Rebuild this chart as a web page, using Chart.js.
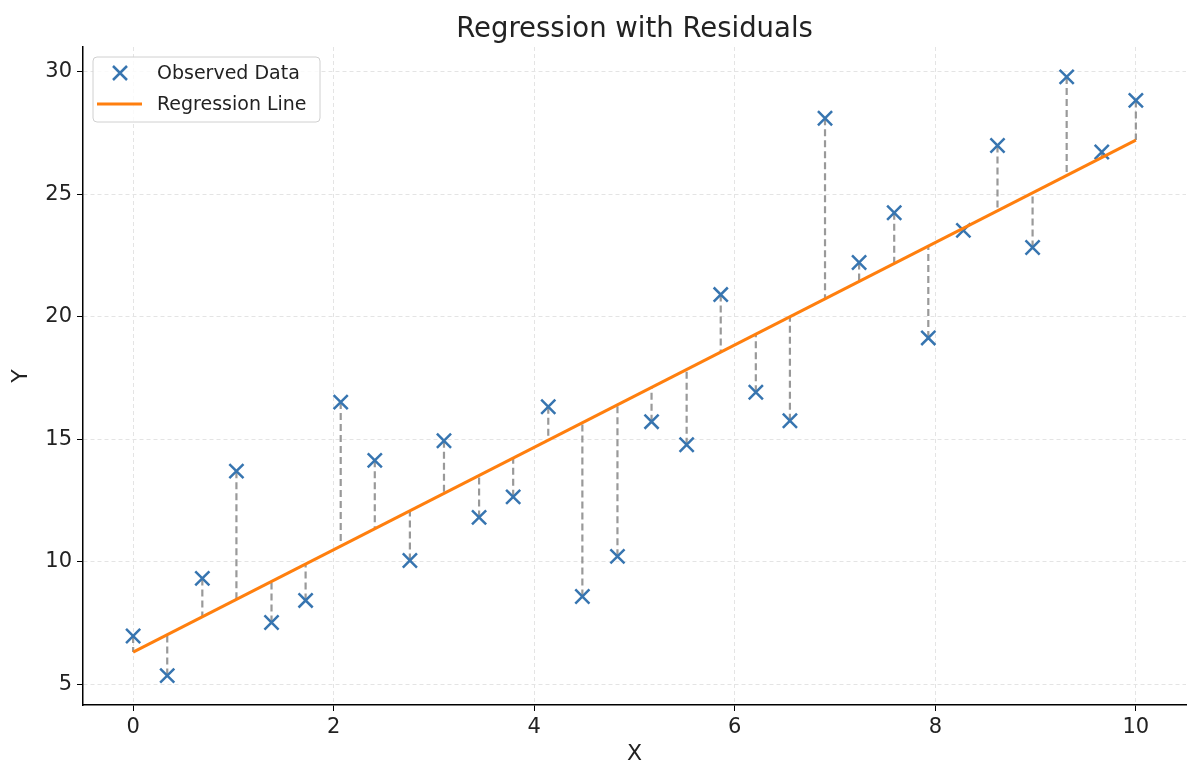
<!DOCTYPE html>
<html>
<head>
<meta charset="utf-8">
<title>Regression with Residuals</title>
<script src="https://cdn.jsdelivr.net/npm/chart.js@4.4.1/dist/chart.umd.min.js"></script>
<style>
  html, body { margin: 0; padding: 0; background: #fff; }
  #wrap { width: 1200px; height: 781px; position: relative; }
</style>
</head>
<body>
<div id="wrap"><canvas id="mycanvas" width="1200" height="781"></canvas></div>
<script>
// data
var xVals = [0, 0.34, 0.69, 1.03, 1.38, 1.72, 2.07, 2.41, 2.76, 3.10,
	3.45, 3.79, 4.14, 4.48, 4.83, 5.17, 5.52, 5.86, 6.21, 6.55,
	6.90, 7.24, 7.59, 7.93, 8.28, 8.62, 8.97, 9.31, 9.66, 10];
var yObserved = [6.97, 5.35, 9.32, 13.70, 7.52, 8.42, 16.52, 14.14, 10.05, 14.94,
	11.81, 12.65, 16.33, 8.58, 10.22, 15.72, 14.78, 20.91, 16.92, 15.76,
	28.11, 22.22, 24.25, 19.14, 23.53, 27.00, 22.83, 29.80, 26.73, 28.84];
var lineX = [0, 10];
var lineY = [6.31, 27.22];
var xTicks = [0, 2, 4, 6, 8, 10];
var yTicks = [5, 10, 15, 20, 25, 30];

var blue = 'rgb(55,117,176)';
var orange = '#ff7f0e';
var font = "'DejaVu Sans', sans-serif";

// fitted value on the drawn regression line
function fitAt(x) {
	var t = (x - lineX[0]) / (lineX[1] - lineX[0]);
	return lineY[0] + t * (lineY[1] - lineY[0]);
}

var observed = [];
var residuals = [];
for (var i in xVals) {
	observed.push({x: xVals[i], y: yObserved[i]});
	residuals.push({x: xVals[i], y: yObserved[i]});
	residuals.push({x: xVals[i], y: fitAt(xVals[i])});
	residuals.push({x: xVals[i], y: null});
}
var regression = [];
for (var j in lineX) {
	regression.push({x: lineX[j], y: lineY[j]});
}

// legend drawn inside the plot area, top left
var insideLegend = {
	id: 'insideLegend',
	afterDraw: function(chart) {
		var ctx = chart.ctx;
		var a = chart.chartArea;
		var bx = a.left + 10, by = a.top + 10, bw = 227, bh = 65;
		ctx.save();
		ctx.beginPath();
		ctx.roundRect(bx, by, bw, bh, 4);
		ctx.fillStyle = 'rgba(255,255,255,0.8)';
		ctx.fill();
		ctx.strokeStyle = '#d0d0d0';
		ctx.lineWidth = 1;
		ctx.stroke();

		// cross marker
		var mx = bx + 27, my = by + 16, s = 7;
		ctx.strokeStyle = blue;
		ctx.lineWidth = 2.5;
		ctx.beginPath();
		ctx.moveTo(mx - s, my - s); ctx.lineTo(mx + s, my + s);
		ctx.moveTo(mx - s, my + s); ctx.lineTo(mx + s, my - s);
		ctx.stroke();

		// line sample
		ctx.strokeStyle = orange;
		ctx.lineWidth = 3;
		ctx.beginPath();
		ctx.moveTo(bx + 4, by + 47); ctx.lineTo(bx + 49, by + 47);
		ctx.stroke();

		ctx.fillStyle = '#222';
		ctx.font = '19px ' + font;
		ctx.textBaseline = 'middle';
		ctx.fillText('Observed Data', bx + 64, my + 1);
		ctx.fillText('Regression Line', bx + 64, by + 48);
		ctx.restore();
	}
};

var ctx = document.getElementById('mycanvas');

var chart = new Chart(ctx, {
	type: 'scatter',
	data: {
		datasets: [
			{
				label: 'Residuals',
				data: residuals,
				showLine: true,
				spanGaps: false,
				borderColor: 'rgba(128,128,128,0.8)',
				borderWidth: 2.2,
				borderDash: [7, 4],
				pointRadius: 0,
				order: 3
			},
			{
				label: 'Observed Data',
				data: observed,
				pointStyle: 'crossRot',
				pointRadius: 10,
				borderWidth: 2.5,
				borderColor: blue,
				backgroundColor: blue,
				order: 2
			},
			{
				label: 'Regression Line',
				data: regression,
				showLine: true,
				borderColor: orange,
				borderWidth: 3,
				pointRadius: 0,
				order: 1
			}
		]
	},
	options: {
		responsive: false,
		animation: false,
		layout: { padding: { left: 8, right: 14, top: 0, bottom: 14 } },
		plugins: {
			legend: { display: false },
			tooltip: { enabled: false },
			title: {
				display: true,
				fullSize: false,
				text: 'Regression with Residuals',
				color: '#222',
				font: { family: font, size: 27.5, weight: 'normal' },
				padding: { top: 13, bottom: 1 }
			}
		},
		scales: {
			x: {
				type: 'linear',
				min: -0.5,
				max: 10.5,
				afterBuildTicks: function(axis) {
					axis.ticks = xTicks.map(function(v) { return {value: v}; });
				},
				afterFit: function(axis) { axis.height = 62; },
				ticks: {
					color: '#222',
					font: { family: font, size: 21 },
					padding: 4,
					maxRotation: 0
				},
				grid: { color: '#e4e4e4', lineWidth: 1, tickColor: '#000', tickLength: 6, tickWidth: 1 },
				border: { color: '#000', width: 1.5, dash: [4, 3] },
				title: {
					display: true,
					text: 'X',
					color: '#222',
					font: { family: font, size: 22 },
					padding: 0
				}
			},
			y: {
				type: 'linear',
				min: 4.15,
				max: 31.02,
				afterBuildTicks: function(axis) {
					axis.ticks = yTicks.map(function(v) { return {value: v}; });
				},
				afterFit: function(axis) { axis.width = 75; },
				ticks: {
					color: '#222',
					font: { family: font, size: 21 },
					padding: 5
				},
				grid: { color: '#e4e4e4', lineWidth: 1, tickColor: '#000', tickLength: 6, tickWidth: 1 },
				border: { color: '#000', width: 1.5, dash: [4, 3] },
				title: {
					display: true,
					text: 'Y',
					color: '#222',
					font: { family: font, size: 22 },
					padding: 0
				}
			}
		}
	},
	plugins: [insideLegend]
});
</script>
</body>
</html>
